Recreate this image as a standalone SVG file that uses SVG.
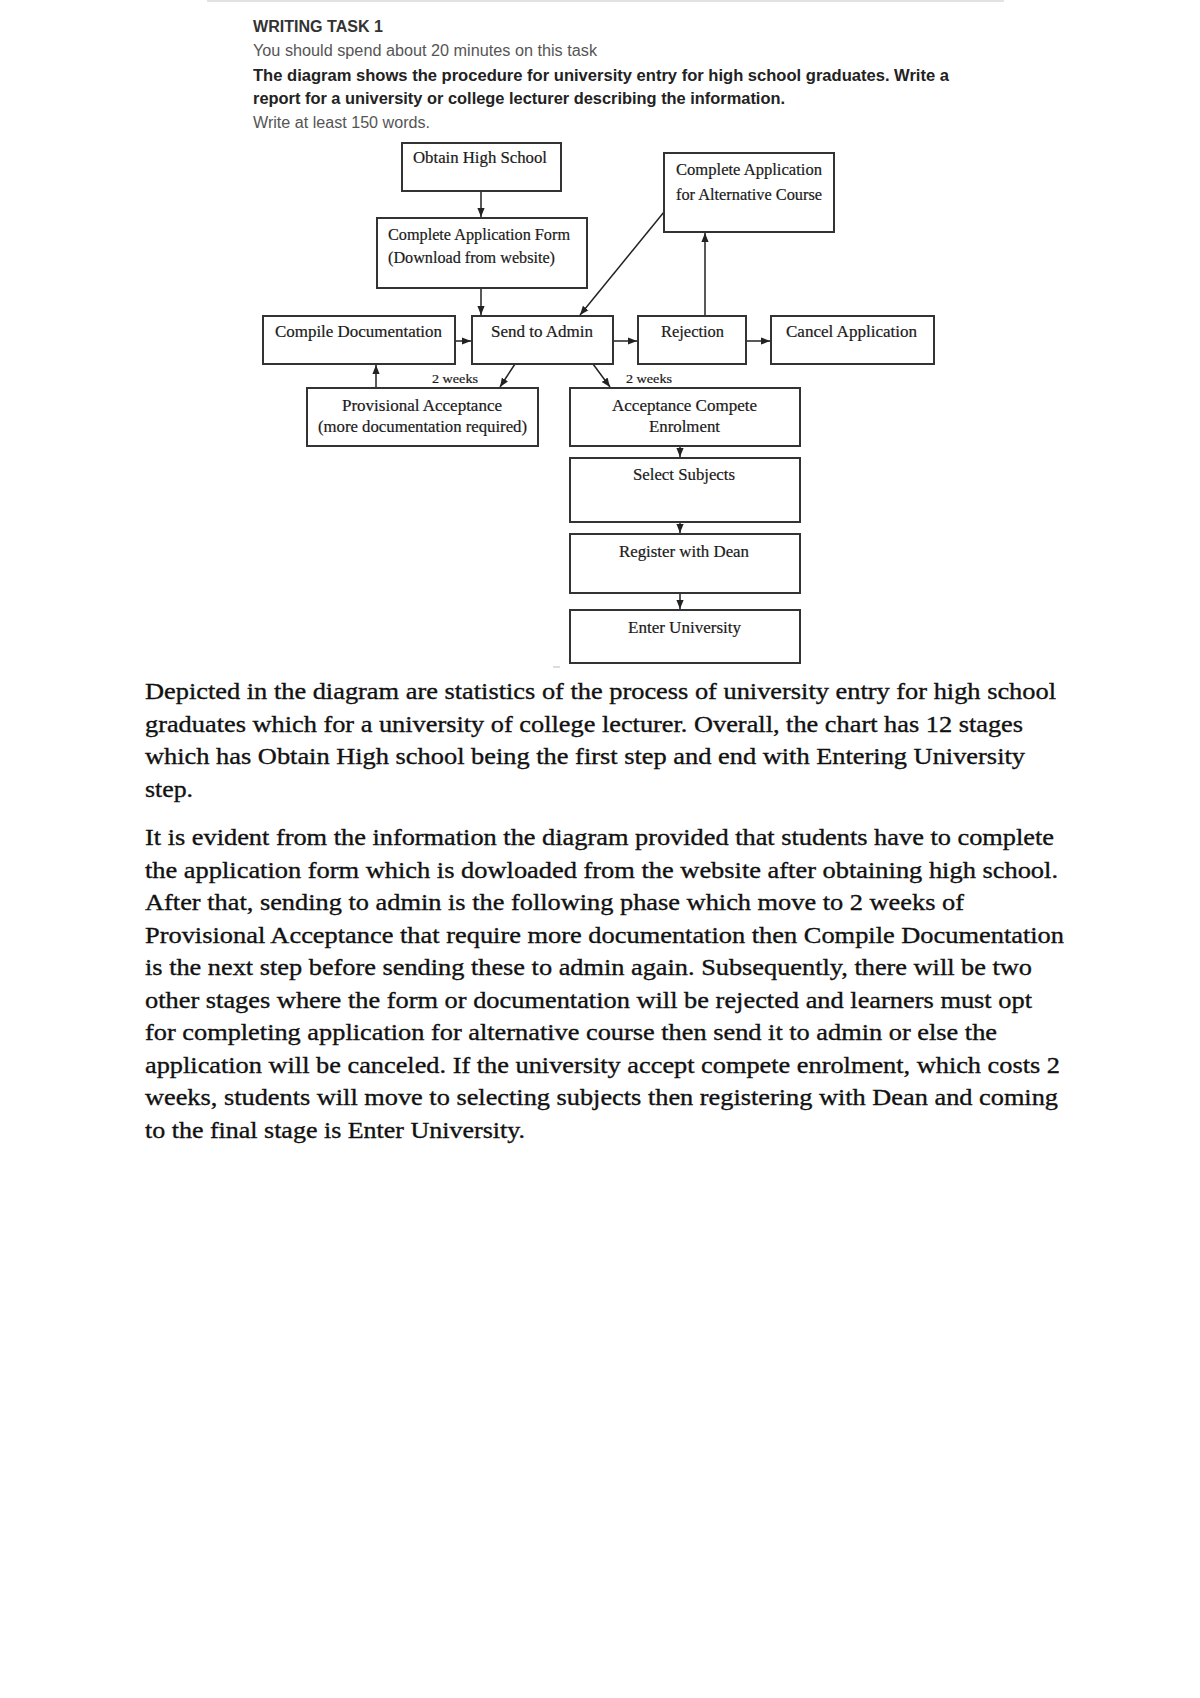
<svg xmlns="http://www.w3.org/2000/svg" width="1200" height="1698" viewBox="0 0 1200 1698">
<defs>
<style>
.box{fill:#fff;stroke:#333;stroke-width:2}
.lbl{font-family:"Liberation Serif","Times New Roman",serif;font-size:16px;fill:#1a1a1a;stroke:#1a1a1a;stroke-width:0.2}
.sm{font-size:13px}
.conn{stroke:#222;stroke-width:1.5;fill:none;marker-end:url(#ah)}
.hdr{font-family:"Liberation Sans",Arial,sans-serif;font-size:16px}
.b{font-weight:bold;fill:#222}
.g{fill:#555}
.para{font-family:"Liberation Serif","Times New Roman",serif;font-size:24px;fill:#111;stroke:#111;stroke-width:0.35}
</style>
<marker id="ah" viewBox="0 0 10 10" refX="10" refY="5" markerWidth="9" markerHeight="9" markerUnits="userSpaceOnUse" orient="auto"><path d="M0,1 L10,5 L0,9 z" fill="#222"/></marker>
</defs>
<rect width="1200" height="1698" fill="#fff"/>
<line x1="207" y1="1" x2="1004" y2="1" stroke="#e2e2e2" stroke-width="2"/>
<g id="header">
<text class="hdr b" x="253" y="32" textLength="130" lengthAdjust="spacingAndGlyphs" style="fill:#333">WRITING TASK 1</text>
<text class="hdr g" x="253" y="55.5" textLength="344" lengthAdjust="spacingAndGlyphs">You should spend about 20 minutes on this task</text>
<text class="hdr b" x="253" y="81" textLength="696" lengthAdjust="spacingAndGlyphs">The diagram shows the procedure for university entry for high school graduates. Write a</text>
<text class="hdr b" x="253" y="103.5" textLength="532" lengthAdjust="spacingAndGlyphs">report for a university or college lecturer describing the information.</text>
<text class="hdr g" x="253" y="128" textLength="177" lengthAdjust="spacingAndGlyphs">Write at least 150 words.</text>
</g>
<g id="connectors">
<path class="conn" d="M481,191 V217"/>
<path class="conn" d="M481,288 V315"/>
<path class="conn" d="M664,212 L580,315"/>
<path class="conn" d="M705,316 V233"/>
<path class="conn" d="M455,341 H471"/>
<path class="conn" d="M613,341 H637"/>
<path class="conn" d="M746,341 H770"/>
<path class="conn" d="M515,364 L500,387"/>
<path class="conn" d="M593,364 L610,387"/>
<path class="conn" d="M376,388 V365"/>
<path class="conn" d="M680,446 V457"/>
<path class="conn" d="M680,522 V533"/>
<path class="conn" d="M680,593 V609"/>
<text class="lbl sm" x="432" y="383" textLength="46" lengthAdjust="spacingAndGlyphs">2 weeks</text>
<text class="lbl sm" x="626" y="383" textLength="46" lengthAdjust="spacingAndGlyphs">2 weeks</text>
</g>
<g id="obtain"><rect class="box" x="402" y="143" width="159" height="48"/><text class="lbl" x="413" y="163" textLength="134" lengthAdjust="spacingAndGlyphs">Obtain High School</text></g>
<g id="appform"><rect class="box" x="377" y="218" width="210" height="70"/><text class="lbl" x="388" y="240" textLength="182" lengthAdjust="spacingAndGlyphs">Complete Application Form</text><text class="lbl" x="388" y="263" textLength="167" lengthAdjust="spacingAndGlyphs">(Download from website)</text></g>
<g id="altcourse"><rect class="box" x="664" y="153" width="170" height="79"/><text class="lbl" x="676" y="175" textLength="146" lengthAdjust="spacingAndGlyphs">Complete Application</text><text class="lbl" x="676" y="200" textLength="146" lengthAdjust="spacingAndGlyphs">for Alternative Course</text></g>
<g id="compile"><rect class="box" x="263" y="316" width="192" height="48"/><text class="lbl" x="275" y="337" textLength="167" lengthAdjust="spacingAndGlyphs">Compile Documentation</text></g>
<g id="send"><rect class="box" x="472" y="316" width="141" height="48"/><text class="lbl" x="491" y="337" textLength="102" lengthAdjust="spacingAndGlyphs">Send to Admin</text></g>
<g id="rejection"><rect class="box" x="638" y="316" width="108" height="48"/><text class="lbl" x="661" y="337" textLength="63" lengthAdjust="spacingAndGlyphs">Rejection</text></g>
<g id="cancel"><rect class="box" x="771" y="316" width="163" height="48"/><text class="lbl" x="786" y="337" textLength="131" lengthAdjust="spacingAndGlyphs">Cancel Application</text></g>
<g id="provisional"><rect class="box" x="307" y="388" width="231" height="58"/><text class="lbl" x="342" y="411" textLength="160" lengthAdjust="spacingAndGlyphs">Provisional Acceptance</text><text class="lbl" x="318" y="432" textLength="209" lengthAdjust="spacingAndGlyphs">(more documentation required)</text></g>
<g id="acceptance"><rect class="box" x="570" y="388" width="230" height="58"/><text class="lbl" x="612" y="411" textLength="145" lengthAdjust="spacingAndGlyphs">Acceptance Compete</text><text class="lbl" x="649" y="432" textLength="71" lengthAdjust="spacingAndGlyphs">Enrolment</text></g>
<g id="select"><rect class="box" x="570" y="458" width="230" height="64"/><text class="lbl" x="633" y="480" textLength="102" lengthAdjust="spacingAndGlyphs">Select Subjects</text></g>
<g id="register"><rect class="box" x="570" y="534" width="230" height="59"/><text class="lbl" x="619" y="557" textLength="130" lengthAdjust="spacingAndGlyphs">Register with Dean</text></g>
<g id="enter"><rect class="box" x="570" y="610" width="230" height="53"/><text class="lbl" x="628" y="633" textLength="113" lengthAdjust="spacingAndGlyphs">Enter University</text></g>
<line x1="553" y1="667" x2="560" y2="667" stroke="#bbb" stroke-width="1"/>
<g id="essay">
<text class="para" x="145" y="699" textLength="911" lengthAdjust="spacingAndGlyphs">Depicted in the diagram are statistics of the process of university entry for high school</text>
<text class="para" x="145" y="731.5" textLength="878" lengthAdjust="spacingAndGlyphs">graduates which for a university of college lecturer. Overall, the chart has 12 stages</text>
<text class="para" x="145" y="764" textLength="880" lengthAdjust="spacingAndGlyphs">which has Obtain High school being the first step and end with Entering University</text>
<text class="para" x="145" y="796.5" textLength="48" lengthAdjust="spacingAndGlyphs">step.</text>
<text class="para" x="145" y="845" textLength="909" lengthAdjust="spacingAndGlyphs">It is evident from the information the diagram provided that students have to complete</text>
<text class="para" x="145" y="877.5" textLength="913" lengthAdjust="spacingAndGlyphs">the application form which is dowloaded from the website after obtaining high school.</text>
<text class="para" x="145" y="910" textLength="819" lengthAdjust="spacingAndGlyphs">After that, sending to admin is the following phase which move to 2 weeks of</text>
<text class="para" x="145" y="942.5" textLength="919" lengthAdjust="spacingAndGlyphs">Provisional Acceptance that require more documentation then Compile Documentation</text>
<text class="para" x="145" y="975" textLength="887" lengthAdjust="spacingAndGlyphs">is the next step before sending these to admin again. Subsequently, there will be two</text>
<text class="para" x="145" y="1007.5" textLength="887" lengthAdjust="spacingAndGlyphs">other stages where the form or documentation will be rejected and learners must opt</text>
<text class="para" x="145" y="1040" textLength="852" lengthAdjust="spacingAndGlyphs">for completing application for alternative course then send it to admin or else the</text>
<text class="para" x="145" y="1072.5" textLength="915" lengthAdjust="spacingAndGlyphs">application will be canceled. If the university accept compete enrolment, which costs 2</text>
<text class="para" x="145" y="1105" textLength="913" lengthAdjust="spacingAndGlyphs">weeks, students will move to selecting subjects then registering with Dean and coming</text>
<text class="para" x="145" y="1137.5" textLength="380" lengthAdjust="spacingAndGlyphs">to the final stage is Enter University.</text>
</g>
</svg>
